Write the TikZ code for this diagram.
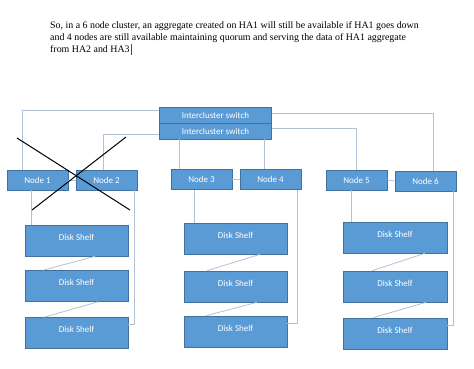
\documentclass[tikz,border=0pt]{standalone}
\usepackage{fontspec}
\setmainfont{Liberation Serif}
\newfontfamily\carlito{Carlito}
\definecolor{boxfill}{HTML}{5B9BD5}
\definecolor{boxline}{HTML}{41719C}
\definecolor{wire}{HTML}{AFC2D8}
\begin{document}
\begin{tikzpicture}[x=1pt,y=-1pt,
  box/.style={draw=boxline, fill=boxfill, text=white, line width=0.6pt, inner sep=0pt,
    font=\carlito\fontsize{9}{10}\selectfont, minimum width=61pt, minimum height=20pt},
  swbox/.style={box, minimum width=112pt, minimum height=16pt},
  shelf/.style={box, minimum width=103pt, minimum height=31pt, text height=15pt, text depth=16pt},
  wire/.style={draw=wire, line width=0.8pt},
  cross/.style={draw=black, line width=1pt}]
\useasboundingbox (0,0) rectangle (474,368);
% caption
\node[anchor=base west, align=left, inner sep=0pt, font=\fontsize{9.9}{11.6}\selectfont] (cap) at (50,52)
 {So, in a 6 node cluster, an aggregate created on HA1 will still be available if HA1 goes down\\
  and 4 nodes are still available maintaining quorum and serving the data of HA1 aggregate\\
  from HA2 and HA3\hspace{1pt}{\color{black!70}\rule[-2.5pt]{0.4pt}{10.5pt}}};
% switches
\node[swbox] (sw1) at (215.5,115) {Intercluster switch};
\node[swbox] (sw2) at (215.5,131) {Intercluster switch};
% nodes
\node[box] (n1) at (37.5,180) {Node 1};
\node[box] (n2) at (106.5,180) {Node 2};
\node[box] (n3) at (201.5,179.5) {Node 3};
\node[box] (n4) at (270.5,179.5) {Node 4};
\node[box] (n5) at (356.5,180) {Node 5};
\node[box] (n6) at (425.5,181) {Node 6};
% shelves
\node[shelf] (a1) at (76.5,240.5) {Disk Shelf};
\node[shelf] (a2) at (76.5,286) {Disk Shelf};
\node[shelf] (a3) at (76.5,333) {Disk Shelf};
\node[shelf] (b1) at (235.5,238.5) {Disk Shelf};
\node[shelf] (b2) at (235.5,286.5) {Disk Shelf};
\node[shelf] (b3) at (235.5,331.5) {Disk Shelf};
\node[shelf, minimum width=104pt] (c1) at (395,237.5) {Disk Shelf};
\node[shelf, minimum width=104pt] (c2) at (395,286.5) {Disk Shelf};
\node[shelf, minimum width=104pt] (c3) at (395,333.5) {Disk Shelf};
% switch to nodes
\begin{scope}[wire]
\draw ([yshift=5pt]sw1.west) -| ([xshift=-15.5pt]n1.north);
\draw ([yshift=-3pt]sw2.west) -| ([xshift=-3.5pt]n2.north);
\draw ([yshift=2pt]sw1.east) -| ([xshift=7.5pt]n6.north);
\draw ([yshift=2.5pt]sw2.east) -| (n5.north);
\draw ([xshift=-22.5pt]n3.north) -- ([xshift=-22.5pt]n3.north |- sw2.south);
\draw ([xshift=-6pt]n4.north) -- ([xshift=-6pt]n4.north |- sw2.south);
% node pairs
\draw (n1.east) -- (n2.west);
\draw (n3.east) -- (n4.west);
\draw (n5.east) -- (n6.west);
% nodes to shelves
\draw ([xshift=-6.5pt]n1.south) -- ([xshift=-6.5pt]n1.south |- a1.north);
\draw ([xshift=27.5pt]n2.south) |- ([yshift=9pt]a3.east);
\draw ([xshift=-7.5pt]n3.south) -- ([xshift=-7.5pt]n3.south |- b1.north);
\draw ([xshift=26.5pt]n4.south) |- ([yshift=8.5pt]b3.east);
\draw ([xshift=-5.5pt]n5.south) -- ([xshift=-5.5pt]n5.south |- c1.north);
\draw ([xshift=27.5pt]n6.south) |- ([yshift=8.5pt]c3.east);
% shelf chains
\draw ([xshift=18.5pt]a1.south) -- ([xshift=-33.5pt]a2.north);
\draw ([xshift=21.5pt]a2.south) -- ([xshift=-32.5pt]a3.north);
\draw ([xshift=24.5pt]b1.south) -- ([xshift=-28.5pt]b2.north);
\draw ([xshift=21.5pt]b2.south) -- ([xshift=-29.5pt]b3.north);
\draw ([xshift=30pt]c1.south) -- ([xshift=-23pt]c2.north);
\draw ([xshift=31pt]c2.south) -- ([xshift=-22pt]c3.north);
\end{scope}
% cross over HA1
\coordinate (x1) at (17,138);
\coordinate (x2) at (130,210);
\coordinate (x3) at (126,137);
\coordinate (x4) at (32,210);
\draw[cross] (x1) -- (x2);
\draw[cross] (x3) -- (x4);
\end{tikzpicture}
\end{document}
